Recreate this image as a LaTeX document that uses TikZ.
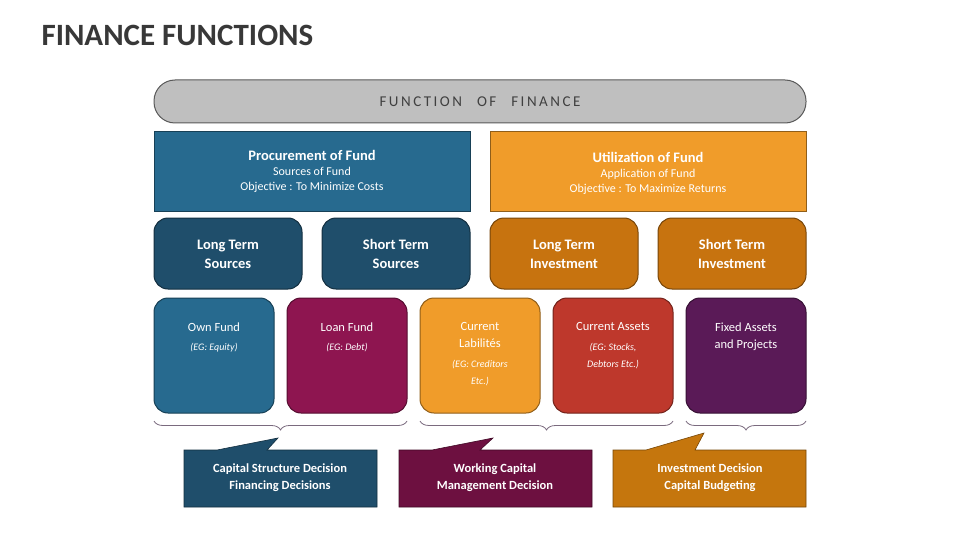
\documentclass[tikz,border=0pt]{standalone}
\usepackage{fontspec}
\setmainfont{Carlito}
\usetikzlibrary{decorations.pathreplacing}
\definecolor{blueA}{HTML}{276A8F}
\definecolor{blueD}{HTML}{1F4E6B}
\definecolor{orA}{HTML}{F09C2A}
\definecolor{orD}{HTML}{C7730F}
\definecolor{mag}{HTML}{8E1550}
\definecolor{redA}{HTML}{BE382C}
\definecolor{purp}{HTML}{5A1A57}
\definecolor{wine}{HTML}{6D1040}
\definecolor{gold}{HTML}{C5760D}
\definecolor{brc}{HTML}{7A6A7E}
\newcommand{\egf}{\itshape\fontsize{10}{14}\selectfont}
\tikzset{
 box/.style={draw=#1!60!black, line width=1pt, fill=#1, text=white, align=center},
 rbox/.style={box=#1, rounded corners=14pt},
 bx/.style={draw=none, fill=none, text=white, align=center},
 br/.style={decorate, decoration={brace, mirror, amplitude=9pt}, draw=brc, line width=0.8pt},
}
\begin{document}
\begin{tikzpicture}[x=1pt,y=-1pt]
\path[use as bounding box, fill=white] (0,0) rectangle (960,540);
\node[anchor=west, text=black!78, font=\bfseries\fontsize{31}{34}\selectfont] (title) at (38,35) {FINANCE FUNCTIONS};
\draw[fill=black!25, draw=black!65, line width=1pt, rounded corners=21pt] (154,80) rectangle (806,123);
\node[text=black!75, font=\fontsize{15}{18}\selectfont] (fof) at (480,102) {F\,U\,N\,C\,T\,I\,O\,N\quad O\,F\quad F\,I\,N\,A\,N\,C\,E};
% row 2
\draw[box=blueA] (154,132) rectangle (470,211);
\node[bx, font=\fontsize{12}{15}\selectfont] (proc) at (312,171) {{\bfseries\fontsize{14.5}{18}\selectfont Procurement of Fund}\\Sources of Fund\\Objective : To Minimize Costs};
\draw[box=orA] (490,132) rectangle (806,211);
\node[bx, font=\fontsize{12}{15}\selectfont] (util) at (648,173) {{\bfseries\fontsize{14.5}{18}\selectfont Utilization of Fund}\\Application of Fund\\Objective : To Maximize Returns};
% row 3
\foreach \x/\c/\t [count=\i] in {154/blueD/{Long Term\\Sources},322/blueD/{Short Term\\Sources},490/orD/{Long Term\\Investment},658/orD/{Short Term\\Investment}}{
 \draw[rbox=\c] (\x,218) rectangle (\x+148,289);
 \node[bx, font=\bfseries\fontsize{14.5}{19}\selectfont] (r3\i) at (\x+74,254) {\t};
}
% row 4
\foreach \x/\c [count=\i] in {154/blueA,287/mag,420/orA,553/redA,686/purp}{
 \draw[rbox=\c] (\x,298) rectangle (\x+120,413);
}
\node[bx, anchor=north, font=\fontsize{12.5}{17}\selectfont] (b1) at (214,319) {Own Fund\\[2pt]\egf (EG: Equity)};
\node[bx, anchor=north, font=\fontsize{12.5}{17}\selectfont] (b2) at (347,319) {Loan Fund\\[2pt]\egf (EG: Debt)};
\node[bx, anchor=north, font=\fontsize{12.5}{17}\selectfont] (b3) at (480,319) {Current\\Labilités\\[3pt]\egf (EG: Creditors\\\egf Etc.)};
\node[bx, anchor=north, font=\fontsize{12.5}{17}\selectfont] (b4) at (613,319) {Current Assets\\[3pt]\egf (EG: Stocks,\\\egf Debtors Etc.)};
\node[bx, anchor=north, font=\fontsize{12.5}{17}\selectfont] (b5) at (746,319) {Fixed Assets\\and Projects};
% braces
\coordinate (a1) at (154,421); \coordinate (a2) at (407,421);
\coordinate (c1) at (420,421); \coordinate (c2) at (673,421);
\coordinate (d1) at (686,421); \coordinate (d2) at (806,421);
\draw[br] (a1) -- (a2);
\draw[br] (c1) -- (c2);
\draw[br] (d1) -- (d2);
% callouts
\draw[box=blueD, line width=0.6pt] (184,450) -- (217,450) -- (278,438) -- (267,450) -- (377,450) -- (377,507) -- (184,507) -- cycle;
\node[bx, font=\bfseries\fontsize{12.5}{17}\selectfont] (k1) at (280,478) {Capital Structure Decision\\Financing Decisions};
\draw[box=wine, line width=0.6pt] (399,450) -- (432,450) -- (493,438) -- (480,450) -- (592,450) -- (592,507) -- (399,507) -- cycle;
\node[bx, font=\bfseries\fontsize{12.5}{17}\selectfont] (k2) at (495,478) {Working Capital\\Management Decision};
\draw[box=gold, line width=0.6pt] (613,450) -- (646,450) -- (704,433) -- (695,450) -- (806,450) -- (806,507) -- (613,507) -- cycle;
\node[bx, font=\bfseries\fontsize{12.5}{17}\selectfont] (k3) at (710,478) {Investment Decision\\Capital Budgeting};
\end{tikzpicture}
\end{document}
